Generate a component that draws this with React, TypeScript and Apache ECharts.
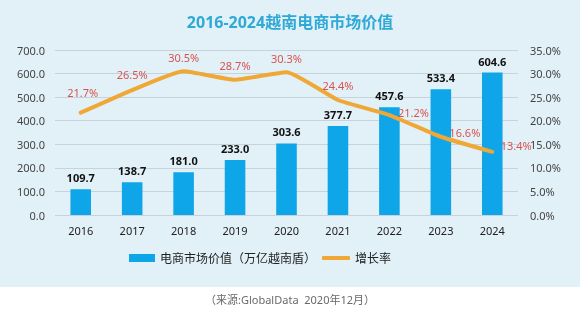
import React, { useEffect, useRef } from "react";
import * as echarts from "echarts";

const years = ["2016", "2017", "2018", "2019", "2020", "2021", "2022", "2023", "2024"];
const marketValue = [109.7, 138.7, 181.0, 233.0, 303.6, 377.7, 457.6, 533.4, 604.6];
const growthRate = [21.7, 26.5, 30.5, 28.7, 30.3, 24.4, 21.2, 16.6, 13.4];
const growthLabelPos = ["top", "top", "top", "top", "top", "top", "right", "right", "right"];
const growthLabelOffset = [[2, -6], [0, -2], [0, 0], [0, 0], [0, 0], [0, 0], [0, -3], [0, -4], [0, -6]];

const FONT = '"Noto Sans", "Noto Sans CJK SC", sans-serif';

export default function App() {
  const ref = useRef<HTMLDivElement>(null);
  useEffect(() => {
    if (!ref.current) return;
    const chart = echarts.init(ref.current, null, { renderer: "svg" });
    chart.setOption({
      animation: false,
      textStyle: { fontFamily: FONT },
      graphic: [
        { type: "rect", left: 0, top: 0, z: -10, shape: { width: 580, height: 287 }, style: { fill: "#e2f1f8" } },
        {
          type: "text",
          left: "center",
          top: 294,
          style: { text: "（来源:GlobalData  2020年12月）", fill: "#6a6a6a", font: `11px ${FONT}` },
        },
      ],
      title: {
        text: "2016-2024越南电商市场价值",
        left: "center",
        top: 9,
        textStyle: { color: "#2fa9d6", fontSize: 16, fontWeight: "bold", fontFamily: FONT },
      },
      legend: [
        {
          top: 247,
          left: 124,
          itemGap: 12,
          itemWidth: 26,
          itemHeight: 8,
          textStyle: { fontSize: 12, color: "#222", fontFamily: FONT },
          data: [{ name: "电商市场价值（万亿越南盾）", icon: "rect" }],
        },
        {
          top: 247,
          left: 317,
          itemWidth: 28,
          itemHeight: 4,
          textStyle: { fontSize: 12, color: "#222", fontFamily: FONT },
          data: [{ name: "增长率", icon: "roundRect", itemStyle: { color: "#efa835", opacity: 1 } }],
        },
      ],
      grid: { left: 55, right: 62, top: 50, bottom: 110, containLabel: false },
      xAxis: {
        type: "category",
        data: years,
        axisLine: { show: false },
        axisTick: { show: false },
        axisLabel: { color: "#222", fontSize: 11, margin: 10 },
      },
      yAxis: [
        {
          type: "value",
          min: 0,
          max: 700,
          interval: 100,
          axisLabel: { formatter: (v: number) => v.toFixed(1), color: "#444", fontSize: 11, margin: 10 },
          splitLine: { lineStyle: { color: "#c6d3db", width: 1 } },
          axisLine: { show: false },
          axisTick: { show: false },
        },
        {
          type: "value",
          min: 0,
          max: 35,
          interval: 5,
          axisLabel: { formatter: (v: number) => v.toFixed(1) + "%", color: "#444", fontSize: 11, margin: 12 },
          splitLine: { show: false },
          axisLine: { show: false },
          axisTick: { show: false },
        },
      ],
      series: [
        {
          name: "电商市场价值（万亿越南盾）",
          type: "bar",
          data: marketValue,
          barWidth: "40%",
          itemStyle: { color: "#0ea5e9" },
          label: {
            show: true,
            position: "top",
            distance: 6,
            formatter: (p: any) => p.value.toFixed(1),
            color: "#111",
            fontSize: 11,
            fontWeight: "bold",
          },
        },
        {
          name: "增长率",
          type: "line",
          yAxisIndex: 1,
          data: growthRate.map((v, i) => ({
            value: v,
            label: { position: growthLabelPos[i], offset: growthLabelOffset[i] },
          })),
          smooth: 0.15,
          symbol: "circle",
          symbolSize: 1,
          showSymbol: true,
          lineStyle: { color: "#efa835", width: 4, cap: "round" },
          itemStyle: { color: "#efa835" },
          label: {
            show: true,
            formatter: (p: any) => p.value.toFixed(1) + "%",
            color: "#d9534f",
            fontSize: 11,
            distance: 8,
          },
          z: 5,
        },
      ],
    });
    return () => chart.dispose();
  }, []);
  return <div ref={ref} style={{ position: "fixed", left: 0, top: 0, width: 580, height: 325 }} />;
}
